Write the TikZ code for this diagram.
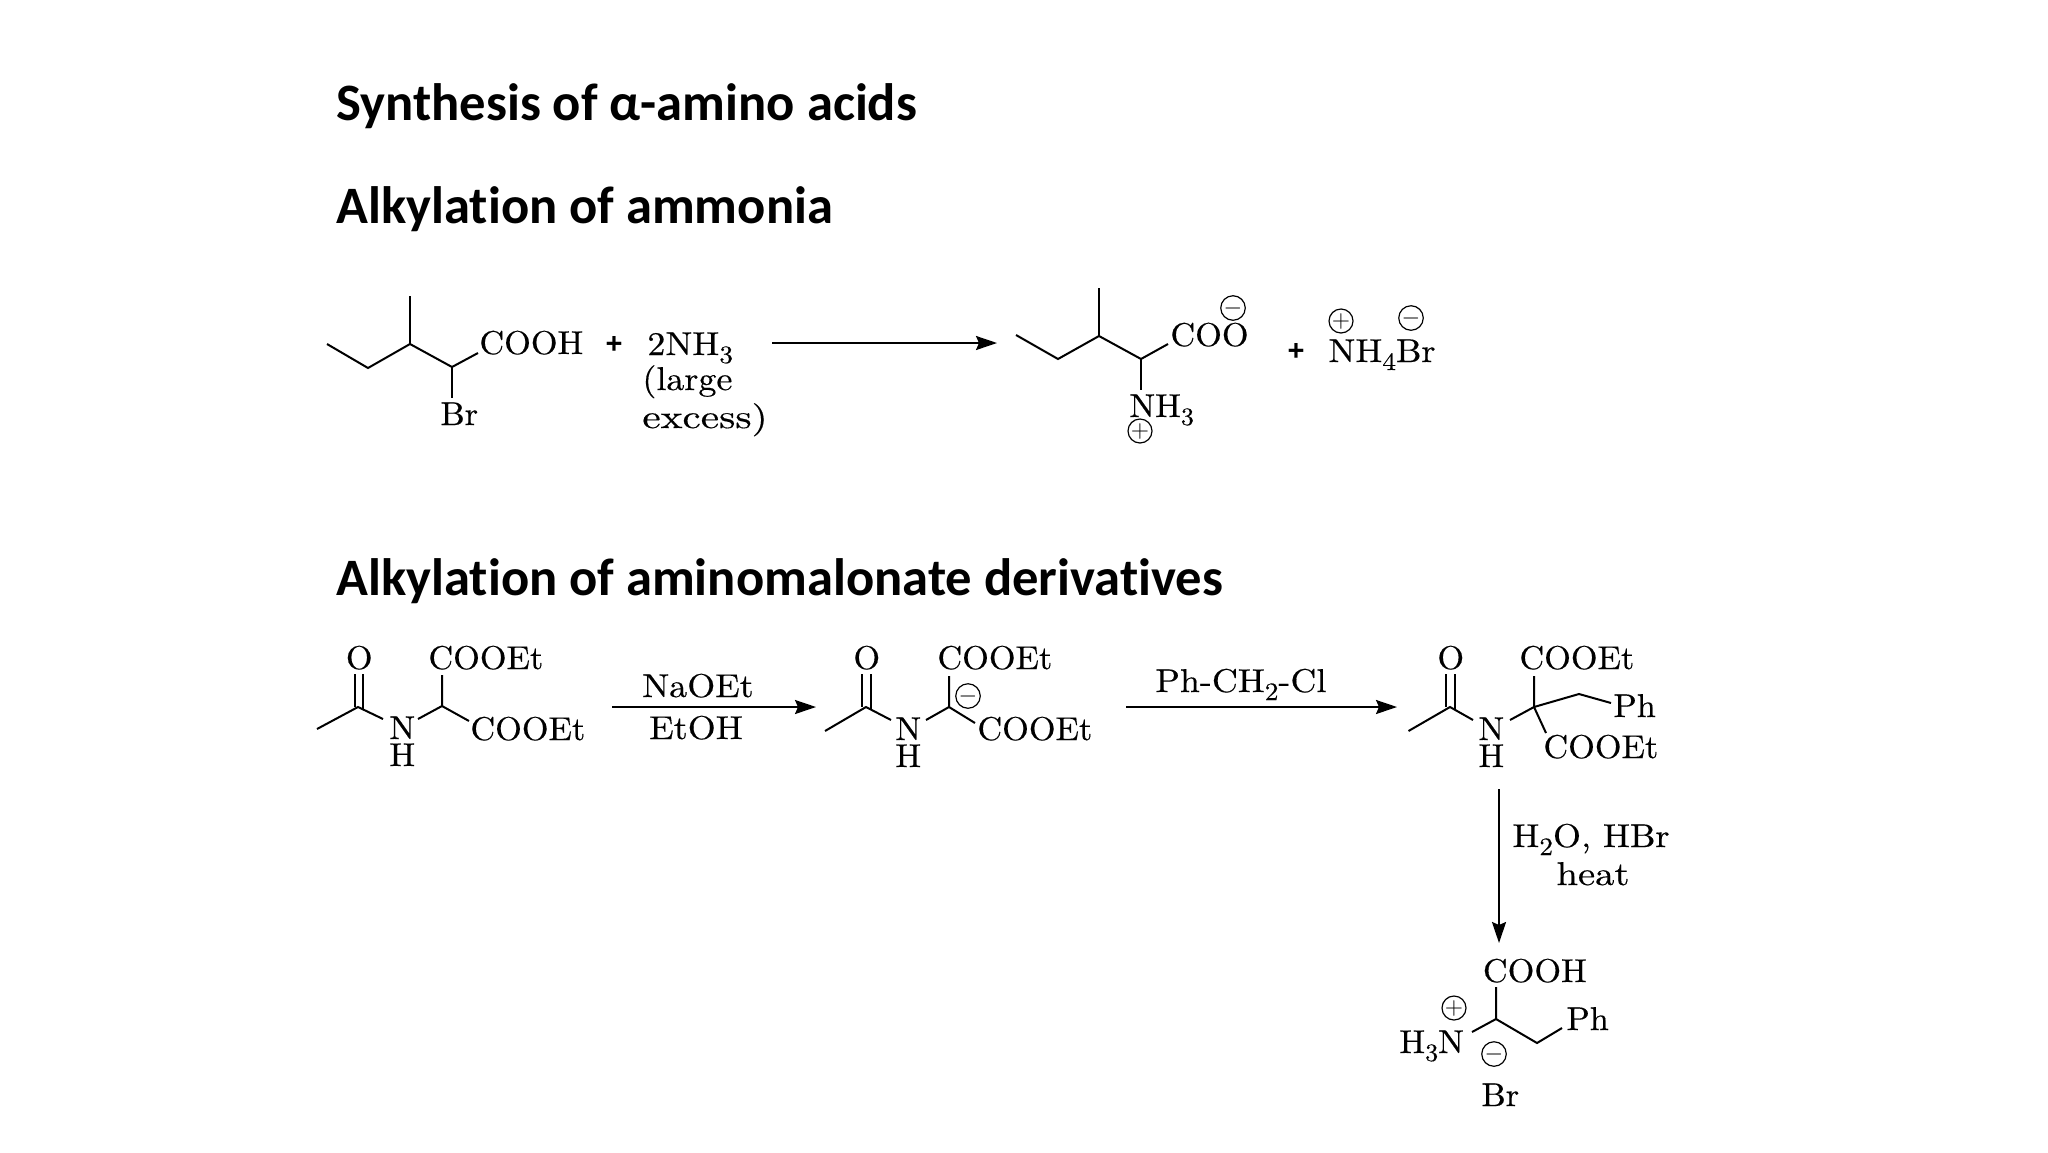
\documentclass[tikz,border=0pt]{standalone}
\usepackage{fontspec}
\usetikzlibrary{arrows.meta}
\newfontfamily\titlefont{Carlito}[Ligatures=NoCommon]
\newfontfamily\chemfont{lmroman10-regular.otf}[FakeStretch=1.04,FakeBold=0.4]
\newfontfamily\reagfont{lmroman10-regular.otf}[FakeStretch=1.09,FakeBold=0.4]
\newfontfamily\heatfont{lmroman10-regular.otf}[FakeStretch=1.17,FakeBold=0.4]
\newfontfamily\xsfont{lmroman10-regular.otf}[FakeStretch=1.25,FakeBold=0.4]
\newfontfamily\plusfont{Liberation Sans}
\newcommand{\chemsub}[1]{\raisebox{-4pt}{\fontsize{12.5}{13}\selectfont #1}}
\tikzset{
  chem/.style={anchor=base west,inner sep=0pt,font=\chemfont\fontsize{16.5}{20}\selectfont},
  reag/.style={anchor=base west,inner sep=0pt,font=\reagfont\fontsize{16.5}{20}\selectfont},
  reagc/.style={reag,anchor=base},
  head/.style={anchor=base west,inner sep=0pt,font=\titlefont\bfseries\fontsize{26.3}{30}\selectfont},
  charge/.style={draw,circle,line width=0.6pt,inner sep=0pt,minimum size=11.5pt,font=\fontsize{12}{12}\selectfont},
  bond/.style={line width=1pt,line join=miter,line cap=butt},
  rxn/.style={line width=1pt,-{Stealth[length=10.5pt,width=7pt,inset=1.5pt]}},
  plusop/.style={inner sep=0pt,font=\plusfont\bfseries\fontsize{14.5}{15}\selectfont},
}
\begin{document}
\begin{tikzpicture}[x=0.5pt,y=-0.5pt]
\useasboundingbox (0,0) rectangle (2048,1152);
\fill[white] (0,0) rectangle (2048,1152);
% headings
\node[head] (h1) at (336,120) {Synthesis of α-amino acids};
\node[head] (h2) at (336,223) {Alkylation of ammonia};
\node[head] (h3) at (336,595) {Alkylation of aminomalonate derivatives};
% molecule 1
\node[chem] (m1cooh) at (479,354) {COOH};
\node[chem] (m1br) at (440,425) {Br};
\node[plusop] (m1plus) at (614,345) {+};
\node[reag] (m1nh3) at (647,355) {2NH\chemsub{3}};
\node[reag] (m1large) at (642,390) {(large};
\node[chem,font=\xsfont\fontsize{16.5}{20}\selectfont] (m1excess) at (642,428) {excess)};
\coordinate (a1) at (327,344);
\coordinate (a2) at (368,368);
\coordinate (a3) at (410,344);
\coordinate (a4) at (410,296);
\coordinate (a5) at (452,367);
\coordinate (a6) at (478,353);
\coordinate (a7) at (452,398);
\draw[bond] (a1) -- (a2) -- (a3) -- (a5) -- (a6);
\draw[bond] (a3) -- (a4);
\draw[bond] (a5) -- (a7);
\coordinate (r1s) at (772,343);
\coordinate (r1e) at (997,343);
\draw[rxn] (r1s) -- (r1e);
% molecule 2
\node[chem] (m2coo) at (1170,346) {COO};
\node[chem] (m2nh3) at (1129,417) {NH\chemsub{3}};
\node[plusop] (m2plus) at (1296,352) {+};
\node[reag] (m2nh4) at (1328,362) {NH\chemsub{4}Br};
\node[charge] (c1) at (1233,308) {$-$};
\node[charge] (c2) at (1140,431) {$+$};
\node[charge] (c3) at (1341,321) {$+$};
\node[charge] (c4) at (1411,318) {$-$};
\coordinate (b1) at (1016,335);
\coordinate (b2) at (1058,359);
\coordinate (b3) at (1099,336);
\coordinate (b4) at (1099,288);
\coordinate (b5) at (1141,359);
\coordinate (b6) at (1168,344);
\coordinate (b7) at (1141,390);
\draw[bond] (b1) -- (b2) -- (b3) -- (b5) -- (b6);
\draw[bond] (b3) -- (b4);
\draw[bond] (b5) -- (b7);
% molecule 3
\node[chem] (m3o) at (345.5,669) {O};
\node[chem] (m3n) at (389,739) {N};
\node[chem] (m3h) at (389,766) {H};
\node[chem] (m3e1) at (428,669) {COOEt};
\node[chem] (m3e2) at (470,740) {COOEt};
\coordinate (d1) at (317,729);
\coordinate (d2) at (358,707);
\coordinate (d3) at (383,719);
\coordinate (d4) at (418,719);
\coordinate (d5) at (442,706);
\coordinate (d6) at (442,675);
\coordinate (d7) at (469,721);
\coordinate (d8a) at (354.5,707);
\coordinate (d8b) at (354.5,674);
\coordinate (d9a) at (363,709);
\coordinate (d9b) at (363,674);
\draw[bond] (d1) -- (d2) -- (d3);
\draw[bond] (d8a) -- (d8b);
\draw[bond] (d9a) -- (d9b);
\draw[bond] (d4) -- (d5) -- (d6);
\draw[bond] (d5) -- (d7);
\node[reagc] (r2a) at (698,697) {NaOEt};
\node[reagc] (r2b) at (696,739) {EtOH};
\coordinate (r2s) at (612,707);
\coordinate (r2e) at (816,707);
\draw[rxn] (r2s) -- (r2e);
% molecule 4
\node[chem] (m4o) at (853,669) {O};
\node[chem] (m4n) at (895,740) {N};
\node[chem] (m4h) at (895,767) {H};
\node[chem] (m4e1) at (937,669) {COOEt};
\node[chem] (m4e2) at (977,740) {COOEt};
\node[charge] (c5) at (968,696) {$-$};
\coordinate (e1) at (825,731);
\coordinate (e2) at (866,707);
\coordinate (e3) at (891,720);
\coordinate (e4) at (926,720);
\coordinate (e5) at (949,707);
\coordinate (e6) at (949,676);
\coordinate (e7) at (975,723);
\coordinate (e8a) at (862,707);
\coordinate (e8b) at (862,674);
\coordinate (e9a) at (871,709);
\coordinate (e9b) at (871,674);
\draw[bond] (e1) -- (e2) -- (e3);
\draw[bond] (e8a) -- (e8b);
\draw[bond] (e9a) -- (e9b);
\draw[bond] (e4) -- (e5) -- (e6);
\draw[bond] (e5) -- (e7);
\node[reag] (r3a) at (1155,692) {Ph-CH\chemsub{2}-Cl};
\coordinate (r3s) at (1126,707);
\coordinate (r3e) at (1397,707);
\draw[rxn] (r3s) -- (r3e);
% molecule 5
\node[chem] (m5o) at (1437,669) {O};
\node[chem] (m5n) at (1478,740) {N};
\node[chem] (m5h) at (1478,767) {H};
\node[chem] (m5e1) at (1519,669) {COOEt};
\node[chem] (m5ph) at (1613,717) {Ph};
\node[chem] (m5e2) at (1543,758) {COOEt};
\coordinate (f1) at (1408.5,731);
\coordinate (f2) at (1450,707);
\coordinate (f3) at (1473,720);
\coordinate (f4) at (1510,720);
\coordinate (f5) at (1534,707);
\coordinate (f6) at (1534,676);
\coordinate (f7) at (1546,733);
\coordinate (f8) at (1579,694);
\coordinate (f9) at (1611,703);
\coordinate (f10a) at (1446,707);
\coordinate (f10b) at (1446,674);
\coordinate (f11a) at (1454.5,709);
\coordinate (f11b) at (1454.5,674);
\draw[bond] (f1) -- (f2) -- (f3);
\draw[bond] (f10a) -- (f10b);
\draw[bond] (f11a) -- (f11b);
\draw[bond] (f4) -- (f5) -- (f6);
\draw[bond] (f5) -- (f7);
\draw[bond] (f5) -- (f8) -- (f9);
\coordinate (r4s) at (1499,789);
\coordinate (r4e) at (1499,943);
\draw[rxn] (r4s) -- (r4e);
\node[reag] (r4a) at (1512,847) {H\chemsub{2}O, HBr};
\node[reagc,font=\heatfont\fontsize{16.5}{20}\selectfont] (r4b) at (1593,885) {heat};
% molecule 6
\node[chem] (m6c) at (1482.5,982) {COOH};
\node[chem] (m6ph) at (1566,1030) {Ph};
\node[chem] (m6n) at (1399,1053) {H\chemsub{3}N};
\node[chem] (m6br) at (1481,1106) {Br};
\node[charge] (c6) at (1454,1008) {$+$};
\node[charge] (c7) at (1494,1054) {$-$};
\coordinate (g1) at (1496,987);
\coordinate (g2) at (1496,1019);
\coordinate (g3) at (1472,1032);
\coordinate (g4) at (1537,1043);
\coordinate (g5) at (1562,1028);
\draw[bond] (g1) -- (g2) -- (g3);
\draw[bond] (g2) -- (g4) -- (g5);
\end{tikzpicture}
\end{document}
